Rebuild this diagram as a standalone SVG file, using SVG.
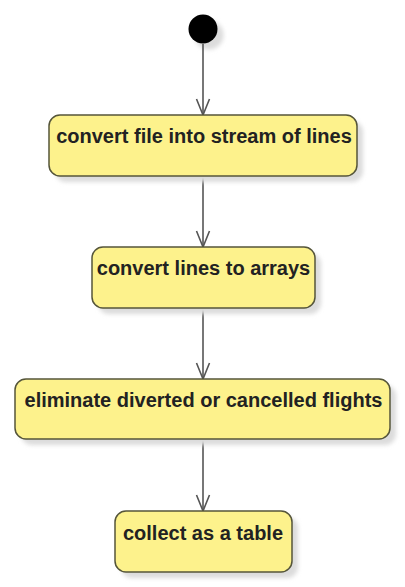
<svg xmlns="http://www.w3.org/2000/svg" width="405" height="587" viewBox="0 0 405 587">
<defs>
<marker id="arr" viewBox="0 0 18 16" refX="17" refY="8" markerWidth="18" markerHeight="16" markerUnits="userSpaceOnUse" orient="auto">
<path d="M1,1.5 L17,8 L1,14.5" fill="none" stroke="#555" stroke-width="1.6"/>
</marker>
<filter id="blur" x="-10%" y="-10%" width="120%" height="130%"><feGaussianBlur stdDeviation="2"/></filter>
</defs>
<style>
.shadow{fill:#dcdcdc;filter:url(#blur)}
.box{fill:#fdf28c;stroke:#55553a;stroke-width:1.5}
.lbl{font-family:"Liberation Sans",Arial,sans-serif;font-weight:bold;font-size:20px;fill:#222}
.conn{stroke:#555;stroke-width:1.6;fill:none}
</style>
<rect width="405" height="587" fill="#fff"/>
<g id="start">
<circle cx="209" cy="35" r="14.5" class="shadow"/>
<circle cx="203" cy="29" r="14.5" fill="#000"/>
</g>
<g id="connectors">
<line x1="203" y1="44" x2="203" y2="115" class="conn" marker-end="url(#arr)"/>
<line x1="203" y1="176" x2="203" y2="247" class="conn" marker-end="url(#arr)"/>
<line x1="203" y1="308" x2="203" y2="379" class="conn" marker-end="url(#arr)"/>
<line x1="203" y1="439" x2="203" y2="511" class="conn" marker-end="url(#arr)"/>
</g>
<g id="n1">
<rect x="55" y="121" width="308" height="61" rx="11" class="shadow"/>
<rect x="49" y="115" width="308" height="61" rx="11" class="box"/>
<text x="204" y="143" text-anchor="middle" class="lbl">convert file into stream of lines</text>
</g>
<g id="n2">
<rect x="98" y="253" width="223" height="61" rx="11" class="shadow"/>
<rect x="92" y="247" width="223" height="61" rx="11" class="box"/>
<text x="203.5" y="275" text-anchor="middle" class="lbl">convert lines to arrays</text>
</g>
<g id="n3">
<rect x="21" y="385" width="375" height="60" rx="11" class="shadow"/>
<rect x="15" y="379" width="375" height="60" rx="11" class="box"/>
<text x="203.5" y="407" text-anchor="middle" class="lbl">eliminate diverted or cancelled flights</text>
</g>
<g id="n4">
<rect x="121" y="517" width="177" height="61" rx="11" class="shadow"/>
<rect x="115" y="511" width="177" height="61" rx="11" class="box"/>
<text x="203" y="540" text-anchor="middle" class="lbl">collect as a table</text>
</g>
</svg>
